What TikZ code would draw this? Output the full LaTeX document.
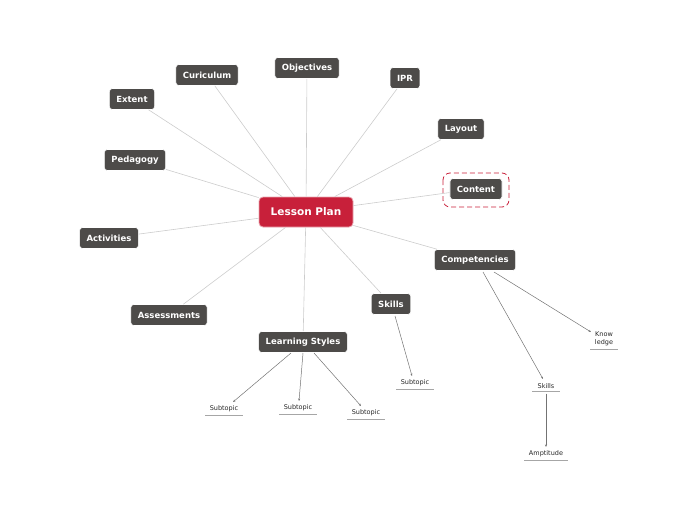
\documentclass[tikz,border=0pt]{standalone}
\usepackage{fontspec}
\setmainfont{DejaVu Sans}
\usetikzlibrary{arrows.meta}
\definecolor{dk}{HTML}{4D4B49}
\definecolor{rd}{HTML}{C8203A}
\definecolor{ln}{HTML}{CCCCCC}
\tikzset{
 topic/.style={fill=dk,text=white,rounded corners=3pt,font=\fontsize{8.5}{10}\selectfont\bfseries,inner xsep=7pt,minimum height=21pt,draw=white,line width=0.6pt},
 central/.style={fill=rd,text=white,rounded corners=4pt,font=\fontsize{10.5}{12}\selectfont\bfseries,minimum width=94pt,minimum height=30pt,draw=rd!40,line width=0.8pt},
 sub/.style={font=\fontsize{6.5}{7.5}\selectfont,text=black!85,inner sep=2pt,align=center},
 mline/.style={draw=ln,line width=0.6pt},
 sline/.style={draw=black!55,line width=0.5pt,-{Stealth[length=2.5pt,width=2pt]}},
 uline/.style={draw=black!35,line width=0.9pt}
}
\begin{document}
\begin{tikzpicture}[x=1pt,y=-1pt]
\useasboundingbox (0,0) rectangle (697,520);
\node[central] (lp) at (306,212) {Lesson Plan};
\node[topic] (obj) at (307,68) {Objectives};
\node[topic] (cur) at (207,75) {Curiculum};
\node[topic] (ext) at (132,99) {Extent};
\node[topic] (ipr) at (405,78) {IPR};
\node[topic] (lay) at (461,129) {Layout};
\node[topic] (con) at (476,189) {Content};
\node[topic] (ped) at (135,160) {Pedagogy};
\node[topic] (act) at (109,238) {Activities};
\node[topic] (comp) at (475,260) {Competencies};
\node[topic] (ass) at (169,315) {Assessments};
\node[topic] (ls) at (303,342) {Learning Styles};
\node[topic] (sk) at (391,304) {Skills};
\draw[rd,dashed,line width=0.8pt,dash pattern=on 5pt off 3pt,rounded corners=7pt] (443,173) rectangle (509,207);
\foreach \n in {obj,cur,ext,ipr,lay,con,ped,act,comp,ass,ls,sk}{\draw[mline] (lp) -- (\n);}
\node[sub] (s1) at (224,409) {Subtopic};
\node[sub] (s2) at (298,408) {Subtopic};
\node[sub] (s3) at (366,413) {Subtopic};
\node[sub] (s4) at (415,383) {Subtopic};
\node[sub] (s5) at (546,386) {Skills};
\node[sub] (s6) at (604,339) {Know\\ledge};
\node[sub] (s7) at (546,454) {Amptitude};
\foreach \n/\w in {s1/19,s2/19,s3/19,s4/19,s5/14,s6/14,s7/22}{\draw[uline] ([xshift=-\w pt,yshift=-1pt]\n.south) -- ([xshift=\w pt,yshift=-1pt]\n.south);}
\draw[sline] (291,353) -- (233,402);
\draw[sline] (303,353) -- (299,401);
\draw[sline] (314,353) -- (361,406);
\draw[sline] (395,316) -- (412,376);
\draw[sline] (483,272) -- (543,379);
\draw[sline] (494,272) -- (591,332);
\draw[sline] (s5.south) ++(0,3) -- (546,447);
\end{tikzpicture}
\end{document}
